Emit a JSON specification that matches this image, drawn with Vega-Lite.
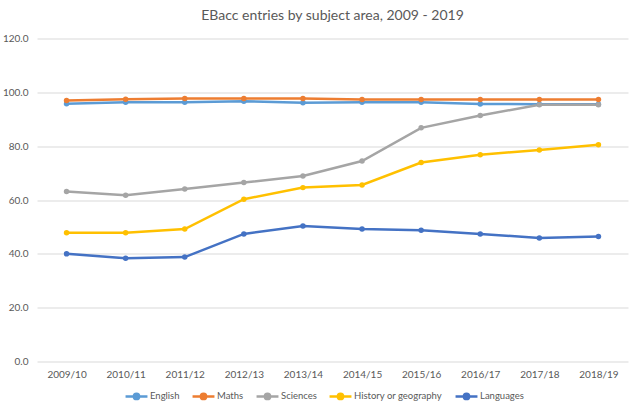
{
  "$schema": "https://vega.github.io/schema/vega-lite/v6.json",
  "width": 591,
  "height": 323,
  "autosize": {"type": "none"},
  "padding": {"left": 37, "top": 38.5, "right": 12, "bottom": 48.5},
  "background": "white",
  "title": {
    "text": "EBacc entries by subject area, 2009 - 2019",
    "font": "Lato",
    "fontSize": 14,
    "fontWeight": "normal",
    "color": "#595959",
    "anchor": "middle",
    "offset": 11
  },
  "data": {
    "values": [
      {"Year": "2009/10", "Subject": "English", "Value": 95.8},
      {"Year": "2010/11", "Subject": "English", "Value": 96.3},
      {"Year": "2011/12", "Subject": "English", "Value": 96.3},
      {"Year": "2012/13", "Subject": "English", "Value": 96.7},
      {"Year": "2013/14", "Subject": "English", "Value": 96.1},
      {"Year": "2014/15", "Subject": "English", "Value": 96.3},
      {"Year": "2015/16", "Subject": "English", "Value": 96.3},
      {"Year": "2016/17", "Subject": "English", "Value": 95.7},
      {"Year": "2017/18", "Subject": "English", "Value": 95.6},
      {"Year": "2018/19", "Subject": "English", "Value": 95.6},
      {"Year": "2009/10", "Subject": "Maths", "Value": 97.0},
      {"Year": "2010/11", "Subject": "Maths", "Value": 97.4},
      {"Year": "2011/12", "Subject": "Maths", "Value": 97.7},
      {"Year": "2012/13", "Subject": "Maths", "Value": 97.7},
      {"Year": "2013/14", "Subject": "Maths", "Value": 97.7},
      {"Year": "2014/15", "Subject": "Maths", "Value": 97.3},
      {"Year": "2015/16", "Subject": "Maths", "Value": 97.3},
      {"Year": "2016/17", "Subject": "Maths", "Value": 97.3},
      {"Year": "2017/18", "Subject": "Maths", "Value": 97.3},
      {"Year": "2018/19", "Subject": "Maths", "Value": 97.3},
      {"Year": "2009/10", "Subject": "Sciences", "Value": 63.2},
      {"Year": "2010/11", "Subject": "Sciences", "Value": 61.8},
      {"Year": "2011/12", "Subject": "Sciences", "Value": 64.1},
      {"Year": "2012/13", "Subject": "Sciences", "Value": 66.5},
      {"Year": "2013/14", "Subject": "Sciences", "Value": 68.9},
      {"Year": "2014/15", "Subject": "Sciences", "Value": 74.5},
      {"Year": "2015/16", "Subject": "Sciences", "Value": 86.8},
      {"Year": "2016/17", "Subject": "Sciences", "Value": 91.4},
      {"Year": "2017/18", "Subject": "Sciences", "Value": 95.4},
      {"Year": "2018/19", "Subject": "Sciences", "Value": 95.4},
      {"Year": "2009/10", "Subject": "History or geography", "Value": 47.8},
      {"Year": "2010/11", "Subject": "History or geography", "Value": 47.8},
      {"Year": "2011/12", "Subject": "History or geography", "Value": 49.2},
      {"Year": "2012/13", "Subject": "History or geography", "Value": 60.3},
      {"Year": "2013/14", "Subject": "History or geography", "Value": 64.6},
      {"Year": "2014/15", "Subject": "History or geography", "Value": 65.6},
      {"Year": "2015/16", "Subject": "History or geography", "Value": 73.9},
      {"Year": "2016/17", "Subject": "History or geography", "Value": 76.8},
      {"Year": "2017/18", "Subject": "History or geography", "Value": 78.6},
      {"Year": "2018/19", "Subject": "History or geography", "Value": 80.5},
      {"Year": "2009/10", "Subject": "Languages", "Value": 40.0},
      {"Year": "2010/11", "Subject": "Languages", "Value": 38.4},
      {"Year": "2011/12", "Subject": "Languages", "Value": 38.8},
      {"Year": "2012/13", "Subject": "Languages", "Value": 47.4},
      {"Year": "2013/14", "Subject": "Languages", "Value": 50.3},
      {"Year": "2014/15", "Subject": "Languages", "Value": 49.2},
      {"Year": "2015/16", "Subject": "Languages", "Value": 48.8},
      {"Year": "2016/17", "Subject": "Languages", "Value": 47.4},
      {"Year": "2017/18", "Subject": "Languages", "Value": 45.9},
      {"Year": "2018/19", "Subject": "Languages", "Value": 46.4}
    ]
  },
  "mark": {
    "type": "line",
    "strokeWidth": 2.5,
    "point": {"filled": true, "size": 30}
  },
  "encoding": {
    "x": {
      "field": "Year",
      "type": "ordinal",
      "title": null,
      "scale": {"type": "point", "padding": 0.5},
      "axis": {
        "labelAngle": 0,
        "ticks": false,
        "domain": false,
        "grid": false,
        "labelPadding": 8,
        "labelFont": "Lato",
        "labelFontSize": 10,
        "labelColor": "#595959"
      }
    },
    "y": {
      "field": "Value",
      "type": "quantitative",
      "title": null,
      "scale": {"domain": [0, 120], "nice": false},
      "axis": {
        "values": [0, 20, 40, 60, 80, 100, 120],
        "format": ".1f",
        "ticks": false,
        "domain": false,
        "gridColor": "#D9D9D9",
        "gridWidth": 1,
        "labelPadding": 9,
        "labelFont": "Lato",
        "labelFontSize": 10,
        "labelColor": "#595959"
      }
    },
    "color": {
      "field": "Subject",
      "type": "nominal",
      "sort": ["English", "Maths", "Sciences", "History or geography", "Languages"],
      "scale": {
        "domain": ["English", "Maths", "Sciences", "History or geography", "Languages"],
        "range": ["#5B9BD5", "#ED7D31", "#A5A5A5", "#FFC000", "#4472C4"]
      },
      "legend": {
        "title": null,
        "orient": "none",
        "direction": "horizontal",
        "legendX": 87,
        "legendY": 345,
        "symbolType": "M-1,0L1,0M-0.24,0A0.24,0.24 0 1,0 0.24,0A0.24,0.24 0 1,0 -0.24,0",
        "symbolSize": 480,
        "symbolStrokeWidth": 2.5,
        "labelFont": "Lato",
        "labelFontSize": 9.5,
        "labelColor": "#595959",
        "labelOffset": 1,
        "columnPadding": 7
      }
    }
  },
  "config": {
    "view": {"stroke": null}
  }
}
